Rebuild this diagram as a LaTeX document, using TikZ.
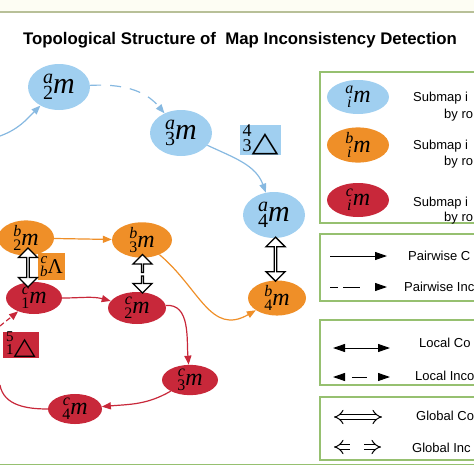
\documentclass[tikz,border=0pt]{standalone}
\usepackage{amsmath,amssymb}
\usepackage{xcolor}
\usepackage{graphicx}
\usepackage{fontspec}
\setmainfont{Liberation Sans}
\newfontfamily\mapfont{Liberation Serif}
\newfontfamily\symfont{DejaVu Sans}
\usetikzlibrary{arrows.meta,shapes.geometric,shapes.arrows,calc}

\definecolor{mapblue}{RGB}{160,207,240}
\definecolor{edgeblue}{RGB}{135,185,225}
\definecolor{maporange}{RGB}{239,143,40}
\definecolor{mapred}{RGB}{200,40,58}
\definecolor{boxgreen}{RGB}{150,192,112}
\definecolor{topline}{RGB}{184,192,152}
\definecolor{topstrip}{RGB}{253,253,243}

% m with stacked robot letter and index in front
\newcommand{\smap}[4]{\mapfont\raisebox{-0.2\dimexpr #1pt\relax}{\shortstack{\fontsize{#2}{#2}\selectfont\itshape #3\\\fontsize{#2}{#2}\selectfont #4}}\fontsize{#1}{#1}\selectfont\itshape m}
\newcommand{\bigmap}[2]{\smap{30}{20}{#1}{#2}}
\newcommand{\lowmap}[2]{\smap{24}{16}{#1}{#2}}

\tikzset{
 submap/.style={ellipse, inner sep=0pt, text=black},
 labelbox/.style={inner sep=0pt, text=black},
 blueedge/.style={edgeblue, line width=1.2pt, -{Triangle[length=9pt,width=7pt]}},
 orangeedge/.style={maporange, line width=1.2pt, -{Triangle[length=9pt,width=7pt]}},
 rededge/.style={mapred, line width=1.2pt, -{Triangle[length=9pt,width=7pt]}},
 globalarrow/.style={double arrow, draw=black, fill=white, line width=1.4pt, inner sep=0pt,
   shape border rotate=90, double arrow head extend=4.5pt},
 globalhalf/.style={single arrow, draw=black, fill=white, line width=1.3pt, inner sep=0pt,
   single arrow head extend=5pt},
 legendbox/.style={boxgreen, line width=1.2pt},
 legendtext/.style={anchor=west, inner sep=0pt, font=\fontsize{13}{15}\selectfont},
 legendarrow/.style={black, line width=1pt},
}

\begin{document}
\begin{tikzpicture}
 \useasboundingbox (0,0) rectangle (474pt,-474pt);
 \clip (0,0) rectangle (474pt,-474pt);
 \begin{scope}[x=1pt,y=1pt]

 % frame
 \fill[topstrip] (0,0) rectangle (474,-12);
 \draw[topline, line width=1.5pt] (0,-12) -- (474,-12);
 \draw[boxgreen, line width=1.2pt] (0,-464.5) -- (474,-464.5);

 \node[font=\bfseries\fontsize{16.8}{20}\selectfont] (title) at (240,-40) {Topological Structure of\ \ Map Inconsistency Detection};

 % submaps of robot a, b, c
 \node[submap, fill=mapblue, minimum width=62pt, minimum height=46pt] (a2) at (59,-87) {\bigmap{a}{2}};
 \node[submap, fill=mapblue, minimum width=62pt, minimum height=46pt] (a3) at (181,-133) {\bigmap{a}{3}};
 \node[submap, fill=mapblue, minimum width=62pt, minimum height=46pt] (a4) at (274,-215) {\bigmap{a}{4}};

 \node[submap, fill=maporange, minimum width=56pt, minimum height=32pt] (b2) at (26,-238) {\lowmap{b}{2}};
 \node[submap, fill=maporange, minimum width=60pt, minimum height=32pt] (b3) at (142,-240) {\lowmap{b}{3}};
 \node[submap, fill=maporange, minimum width=58pt, minimum height=34pt] (b4) at (277,-298) {\lowmap{b}{4}};

 \node[submap, fill=mapred, minimum width=56pt, minimum height=32pt] (c1) at (34,-298) {\lowmap{c}{1}};
 \node[submap, fill=mapred, minimum width=58pt, minimum height=32pt] (c2) at (137,-308) {\lowmap{c}{2}};
 \node[submap, fill=mapred, minimum width=56pt, minimum height=30pt] (c3) at (190,-380) {\lowmap{c}{3}};
 \node[submap, fill=mapred, minimum width=54pt, minimum height=30pt] (c4) at (75,-409) {\lowmap{c}{4}};

 % loop labels
 \node[labelbox, fill=mapblue, minimum width=41pt, minimum height=30pt] (tri43) at (260.5,-140)
   {\mapfont\shortstack{\fontsize{18}{18}\selectfont 4\\\fontsize{18}{18}\selectfont 3}\scalebox{1.25}[1]{\symfont\fontsize{28}{28}\selectfont △}};
 \node[labelbox, fill=maporange, minimum width=27pt, minimum height=27pt] (lamcb) at (51.5,-266.5)
   {\mapfont\raisebox{-3pt}{\shortstack{\fontsize{15}{15}\selectfont\itshape c\\\fontsize{15}{15}\selectfont\itshape b}}\fontsize{21}{21}\selectfont Λ};
 \node[labelbox, fill=mapred, minimum width=36pt, minimum height=26pt] (tri51) at (21,-345)
   {\mapfont\shortstack{\fontsize{15}{15}\selectfont 5\\\fontsize{15}{15}\selectfont 1}\scalebox{1.2}[1]{\symfont\fontsize{24}{24}\selectfont △}};

 % pairwise edges
 \coordinate (ina) at (0,-136);
 \coordinate (inc) at (0,-326);
 \coordinate (outc) at (0,-385);

 \draw[blueedge] (ina) to[out=20,in=-135] (a2);
 \draw[blueedge, dash pattern=on 11pt off 9pt] (a2) to[out=3,in=130] (a3);
 \draw[blueedge] (a3) to[out=-25,in=110] (a4);

 \draw[orangeedge] (b2) -- (b3);
 \draw[orangeedge] (b3) to[out=-40,in=-150,looseness=1.2] (b4);

 \draw[rededge, dash pattern=on 5pt off 3pt] (inc) to[out=40,in=-140] (c1);
 \draw[rededge] (c1) to[out=0,in=165] (c2);
 \draw[rededge] (c2) to[out=5,in=95] (c3);
 \draw[rededge] (c3) to[out=-150,in=5] (c4);
 \draw[mapred, line width=1.2pt] (c4) to[out=180,in=-80] (outc);

 % global edges
 \node[globalarrow, minimum width=19pt, minimum height=44pt] (ga4b4) at ($(a4.south)!0.5!(b4.north)$) {};
 \node[globalarrow, minimum width=19pt, minimum height=39pt] (gb2c1) at (28,-267.5) {};
 \node[globalhalf, shape border rotate=90, minimum width=19pt, minimum height=18pt] (gb3up) at (142.5,-264) {};
 \node[globalhalf, shape border rotate=270, minimum width=19pt, minimum height=17pt] (gc2dn) at (142.5,-284) {};

 % legend
 \draw[legendbox] (320,-72) rectangle (480,-223);
 \draw[legendbox] (320,-234) rectangle (480,-301);
 \draw[legendbox] (320,-320) rectangle (480,-385);
 \draw[legendbox] (320,-397) rectangle (480,-460);

 \node[submap, fill=mapblue, minimum width=62pt, minimum height=34pt] (la) at (358,-97) {\smap{24}{16}{a}{\itshape i}};
 \node[submap, fill=maporange, minimum width=62pt, minimum height=34pt] (lb) at (358,-145) {\smap{24}{16}{b}{\itshape i}};
 \node[submap, fill=mapred, minimum width=62pt, minimum height=34pt] (lc) at (358,-200) {\smap{24}{16}{c}{\itshape i}};

 \node[legendtext] (la1) at (413,-98) {Submap i};
 \node[legendtext] (la2) at (444,-115) {by ro};
 \node[legendtext] (lb1) at (413,-146) {Submap i};
 \node[legendtext] (lb2) at (444,-162) {by ro};
 \node[legendtext] (lc1) at (413,-203) {Submap i};
 \node[legendtext] (lc2) at (444,-218) {by ro};

 \coordinate (pc1) at (330,-256); \coordinate (pc2) at (387,-256);
 \coordinate (pi1) at (330,-287); \coordinate (pi2) at (387,-287);
 \draw[legendarrow, -{Triangle[length=12pt,width=8pt]}] (pc1) -- (pc2);
 \draw[legendarrow, dash pattern=on 8pt off 5pt on 17pt off 20pt, -{Triangle[length=12pt,width=8pt]}] (pi1) -- (pi2);
 \node[legendtext] (pct) at (408,-256) {Pairwise C};
 \node[legendtext] (pit) at (404,-287) {Pairwise Inc};

 \coordinate (lc1a) at (333,-348); \coordinate (lc1b) at (390,-348);
 \coordinate (li1a) at (333,-377); \coordinate (li1b) at (390,-377);
 \draw[legendarrow, {Triangle[length=12pt,width=8pt]}-{Triangle[length=12pt,width=8pt]}] (lc1a) -- (lc1b);
 \draw[legendarrow, dash pattern=on 0pt off 7pt on 15pt off 20pt, {Triangle[length=12pt,width=8pt]}-{Triangle[length=12pt,width=8pt]}] (li1a) -- (li1b);
 \node[legendtext] (lct) at (419,-343) {Local Co};
 \node[legendtext] (lit) at (415,-376) {Local Inco};

 \coordinate (gc1a) at (334,-417); \coordinate (gc1b) at (382,-417);
 \coordinate (gi1a) at (334,-447); \coordinate (gi1b) at (350,-447);
 \coordinate (gi2a) at (364,-447); \coordinate (gi2b) at (381,-447);
 \draw[legendarrow, double, double distance=4pt, {Implies}-{Implies}] (gc1a) -- (gc1b);
 \draw[legendarrow, double, double distance=4pt, {Implies}-] (gi1a) -- (gi1b);
 \draw[legendarrow, double, double distance=4pt, -{Implies}] (gi2a) -- (gi2b);
 \node[legendtext] (gct) at (416,-416) {Global Co};
 \node[legendtext] (git) at (412,-448) {Global Inc};

 \end{scope}
\end{tikzpicture}
\end{document}
